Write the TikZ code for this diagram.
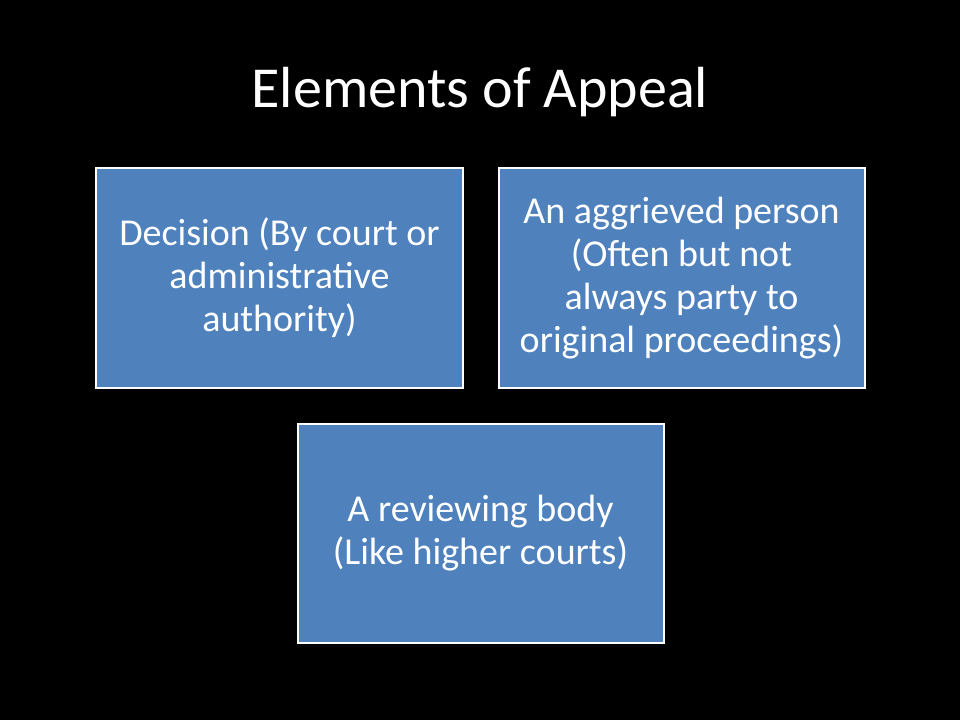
\documentclass[tikz,border=0pt]{standalone}
\usepackage{fontspec}
\setmainfont{Carlito}
\begin{document}
\begin{tikzpicture}[x=1bp,y=-1bp,
  box/.style={draw=white,line width=2bp,fill={rgb,255:red,79;green,129;blue,189},minimum width=366bp,minimum height=219bp,inner sep=0pt,text=white,align=center,font=\fontsize{38bp}{43bp}\selectfont}]
\fill[black] (0,0) rectangle (960,720);
\useasboundingbox (0,0) rectangle (960,720);
\node[text=white,font=\fontsize{58bp}{64bp}\selectfont] (title) at (480,92) {Elements of Appeal};
\node[box] (a) at (279.5,278) {Decision (By court or\\administrative\\authority)};
\node[box] (b) at (681.5,278) {An aggrieved person\\(Often but not\\always party to\\original proceedings)};
\node[box] (c) at (480.5,533.5) {A reviewing body\\(Like higher courts)};
\end{tikzpicture}
\end{document}
